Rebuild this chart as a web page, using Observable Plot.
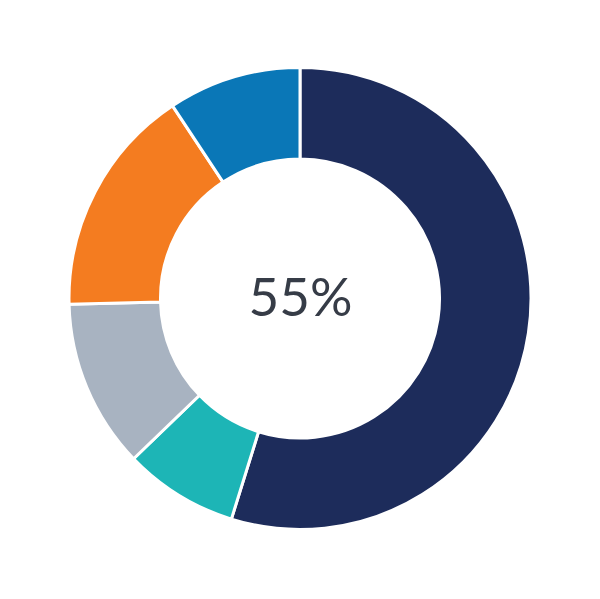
<!DOCTYPE html>
<html>
<head>
<meta charset="utf-8">
<script src="https://cdn.jsdelivr.net/npm/d3@7"></script>
<script src="https://cdn.jsdelivr.net/npm/@observablehq/plot@0.6"></script>
<style>
  html, body { margin: 0; padding: 0; background: #fff; }
  #chart { width: 600px; height: 599px; }
  #chart svg text { font-family: Lato, sans-serif; }
</style>
</head>
<body>
<div id="chart"></div>
<script>
const categories = ["A", "B", "C", "D", "E"];
const values = [54.8, 8.0, 11.8, 16.1, 9.3];
const colors = ["#1d2c5b", "#1db5b6", "#a8b3c1", "#f47c20", "#0a77b7"];
const centerLabel = ["55%"];

const data = categories.map((c, i) => ({category: c, value: values[i]}));
const pie = d3.pie().sort(null).value(d => d.value)(data);

function donut(index, scales, values, dims) {
  const sx = scales.x, sy = scales.y;
  const cx = sx(0), cy = sy(0);
  const rOuter = sx(1) - sx(0);
  const rInner = rOuter * 0.604;
  const arc = d3.arc().innerRadius(rInner).outerRadius(rOuter);
  const g = d3.create("svg:g").attr("transform", `translate(${cx},${cy})`);
  g.selectAll("path").data(pie).join("path")
    .attr("d", arc)
    .attr("fill", d => scales.color(d.data.category))
    .attr("stroke", "#fff")
    .attr("stroke-width", 3)
    .attr("stroke-linejoin", "round");
  return g.node();
}

const chart = Plot.plot({
  width: 600,
  height: 599,
  margin: 0,
  marginLeft: 69,
  marginRight: 69,
  marginTop: 68,
  marginBottom: 70,
  x: {domain: [-1, 1], axis: null},
  y: {domain: [-1, 1], axis: null},
  color: {domain: categories, range: colors},
  style: {background: "#fff", fontFamily: "Lato, sans-serif"},
  marks: [
    donut,
    Plot.text(centerLabel, {
      x: () => 0, y: () => 0, text: d => d,
      fontSize: 53, fill: "#363c47",
      fontFamily: "Lato", fontWeight: 400,
      textAnchor: "middle", lineAnchor: "middle"
    })
  ]
});
document.getElementById("chart").appendChild(chart);
</script>
</body>
</html>
